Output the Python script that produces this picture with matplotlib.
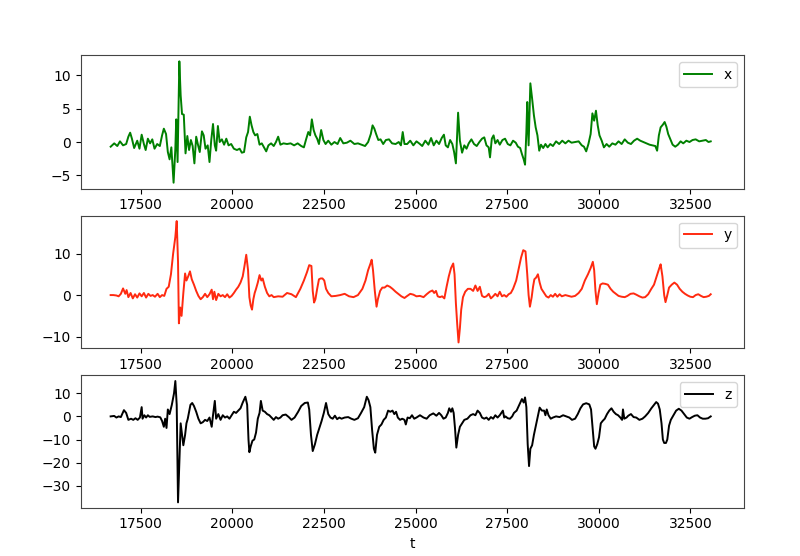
import numpy as np
import matplotlib
matplotlib.use("Agg")
import matplotlib.pyplot as plt

# ---- series x (green) ----
t_x = [16679, 16776, 16860, 16933, 17017, 17102, 17162, 17211, 17259, 17320, 17404, 17465, 17525, 17586,
       17634, 17694, 17755, 17815, 17876, 17948, 18021, 18082, 18130, 18190, 18239, 18287, 18335, 18396,
       18444, 18468, 18505, 18553, 18589, 18626, 18674, 18722, 18771, 18819, 18868, 18916, 18964, 19013,
       19061, 19110, 19170, 19218, 19267, 19327, 19376, 19424, 19472, 19521, 19557, 19605, 19654, 19714,
       19775, 19835, 19896, 19968, 20041, 20125, 20198, 20258, 20319, 20379, 20428, 20476, 20524, 20573,
       20621, 20682, 20742, 20803, 20863, 20924, 20984, 21057, 21129, 21190, 21250, 21311, 21395, 21492,
       21589, 21685, 21782, 21879, 21952, 22012, 22072, 22121, 22169, 22218, 22266, 22314, 22363, 22423,
       22484, 22544, 22617, 22701, 22786, 22871, 22943, 23028, 23125, 23221, 23330, 23427, 23524, 23621,
       23705, 23778, 23826, 23875, 23923, 23983, 24044, 24116, 24189, 24274, 24358, 24455, 24540, 24600,
       24649, 24697, 24770, 24854, 24939, 25024, 25096, 25181, 25265, 25350, 25423, 25495, 25568, 25640,
       25713, 25773, 25822, 25882, 25942, 26003, 26051, 26100, 26160, 26209, 26269, 26330, 26390, 26450,
       26523, 26595, 26668, 26741, 26813, 26874, 26934, 26995, 27031, 27080, 27128, 27176, 27237, 27297,
       27370, 27442, 27515, 27587, 27660, 27733, 27793, 27854, 27902, 27950, 27987, 28023, 28047, 28084,
       28132, 28180, 28229, 28277, 28325, 28374, 28422, 28482, 28543, 28603, 28676, 28748, 28833, 28918,
       29002, 29087, 29172, 29256, 29353, 29450, 29535, 29595, 29656, 29716, 29777, 29825, 29873, 29922,
       29970, 30018, 30079, 30139, 30212, 30285, 30369, 30454, 30538, 30623, 30707, 30792, 30877, 30961,
       31046, 31131, 31215, 31300, 31385, 31469, 31542, 31591, 31639, 31687, 31748, 31796, 31844, 31893,
       31953, 32014, 32086, 32159, 32232, 32304, 32389, 32474, 32558, 32643, 32739, 32836, 32921, 32993,
       33054]
x_vals = [-0.7, -0.2, -0.6, 0.1, -0.5, -0.3, 0.8, 1.4, 0.5, -0.9, 0.2, -1.0, 1.1, -0.3,
          -1.2, 0.5, -0.2, 0.4, -1.0, -0.3, -0.6, 1.0, 2.0, 1.2, -1.5, -2.6, -0.8, -6.1,
          -1.0, 3.4, -3.0, 12.1, 7.0, 4.2, 4.1, -1.7, 0.9, -1.2, 0.3, -0.6, -3.2, 0.8,
          -0.4, -1.5, 1.6, 1.0, -1.0, -0.5, -3.0, 0.3, 2.7, -0.5, -1.3, 2.4, 0.0, 0.4,
          -0.4, 0.5, -0.5, -0.3, -1.0, -1.2, -1.0, -1.6, -1.5, 0.7, 1.5, 3.8, 2.5, 1.5,
          1.0, 1.2, -0.4, -0.2, -0.8, -1.4, -0.5, -0.2, -0.6, 0.0, 0.8, -0.4, -0.2, -0.3,
          -0.2, -0.5, -0.2, -0.6, -0.8, 0.4, 1.5, 1.0, 3.4, 1.8, 1.0, 0.5, -0.3, 1.8,
          0.3, -0.3, 0.2, -0.4, 0.0, -0.3, 0.6, -0.2, -0.1, 0.2, -0.3, -0.2, -0.4, -0.6,
          0.0, 1.2, 2.5, 2.0, 1.2, 0.3, 0.4, -0.3, 0.3, 0.4, -0.2, -0.3, 0.0, -0.5,
          1.5, -0.3, -0.3, 0.2, -0.5, 0.1, -0.2, -0.6, 0.2, -0.4, 0.6, -0.5, 0.2, -0.3,
          0.6, 1.1, -0.5, -0.8, 0.3, -0.3, -1.5, -3.2, 4.4, 0.2, -1.6, -0.5, -1.0, -0.2,
          0.4, -0.3, -0.6, 0.0, 0.5, 0.7, -0.5, -0.8, -2.3, 0.5, 1.0, -0.2, 0.3, -0.4,
          0.3, 0.5, -0.3, -0.5, 0.2, -0.1, -0.7, -0.9, -1.8, -2.6, -3.4, 1.5, 6.0, -0.5,
          8.8, 6.5, 4.0, 2.2, 1.0, -1.3, -0.4, -0.9, -0.3, -0.8, -0.3, -0.6, 0.1, -0.3,
          0.2, -0.2, 0.2, -0.1, 0.0, 0.1, -0.5, -0.7, -1.4, -0.3, 1.2, 4.3, 3.2, 4.7,
          2.5, 1.0, 0.2, -0.8, -0.3, -0.7, -0.2, -0.4, 0.1, -0.3, 0.4, -0.1, -0.3, 0.2,
          0.5, 0.2, 0.0, -0.2, -0.4, -0.5, -0.6, -1.3, 1.0, 2.2, 2.6, 3.0, 2.3, 1.2,
          0.4, -0.4, -0.7, -0.4, 0.1, -0.2, 0.2, 0.0, 0.3, 0.4, 0.1, 0.2, 0.3, 0.0,
          0.1]

# ---- series y (red) ----
t_y = [16678, 16751, 16836, 16897, 16957, 17017, 17078, 17114, 17162, 17223, 17283, 17344, 17404, 17465,
       17525, 17586, 17646, 17707, 17767, 17827, 17888, 17960, 18021, 18082, 18142, 18203, 18263, 18324,
       18384, 18444, 18481, 18517, 18541, 18577, 18614, 18662, 18710, 18747, 18795, 18843, 18892, 18952,
       19013, 19073, 19134, 19194, 19255, 19315, 19376, 19436, 19472, 19509, 19557, 19617, 19678, 19738,
       19799, 19859, 19920, 19980, 20041, 20101, 20162, 20222, 20283, 20331, 20379, 20428, 20464, 20500,
       20536, 20573, 20609, 20646, 20694, 20742, 20790, 20827, 20887, 20948, 21008, 21069, 21129, 21250,
       21371, 21492, 21613, 21734, 21855, 21952, 22036, 22097, 22157, 22193, 22230, 22266, 22314, 22363,
       22411, 22459, 22508, 22556, 22617, 22701, 22822, 22943, 23064, 23185, 23306, 23427, 23548, 23633,
       23705, 23766, 23802, 23838, 23887, 23935, 23971, 24032, 24092, 24153, 24225, 24298, 24370, 24455,
       24540, 24612, 24697, 24757, 24854, 24939, 25024, 25120, 25217, 25302, 25386, 25459, 25507, 25556,
       25604, 25664, 25725, 25785, 25846, 25906, 25967, 26027, 26063, 26100, 26136, 26172, 26209, 26245,
       26293, 26354, 26426, 26499, 26571, 26632, 26692, 26753, 26813, 26874, 26934, 26995, 27055, 27116,
       27176, 27237, 27297, 27358, 27418, 27478, 27539, 27599, 27660, 27745, 27817, 27878, 27938, 27999,
       28047, 28084, 28120, 28168, 28205, 28241, 28289, 28338, 28386, 28434, 28507, 28567, 28627, 28688,
       28748, 28809, 28869, 28930, 28990, 29087, 29172, 29256, 29353, 29450, 29535, 29619, 29704, 29777,
       29837, 29873, 29909, 29946, 29994, 30042, 30103, 30175, 30248, 30321, 30393, 30466, 30538, 30623,
       30707, 30780, 30865, 30949, 31022, 31107, 31191, 31264, 31348, 31433, 31506, 31578, 31651, 31687,
       31736, 31784, 31820, 31869, 31917, 31990, 32062, 32135, 32207, 32280, 32352, 32425, 32497, 32570,
       32643, 32715, 32788, 32860, 32933, 33005, 33054]
y_vals = [0.0, 0.0, -0.1, -0.3, 0.3, 1.6, 0.3, 1.2, -0.5, 0.5, -0.8, 0.2, -0.6, 0.4,
          -0.3, 0.5, -0.6, 0.3, -0.2, 0.0, -0.4, 0.3, -0.5, 0.0, -0.2, 1.5, 2.0, 5.0,
          10.0, 14.0, 17.8, 8.0, -6.8, -3.0, -5.0, 0.5, 5.2, 3.5, 4.5, 5.7, 3.8, 2.5,
          1.0, -0.2, -1.0, -0.5, 0.3, -0.5, 0.2, 1.3, -1.0, 0.8, -1.2, 0.3, -0.3, 0.0,
          -0.5, 0.2, -0.6, -0.2, 0.5, 1.3, 2.0, 3.0, 4.5, 7.0, 9.7, 6.0, -0.5, -2.5,
          -3.5, -1.0, 0.5, 1.5, 3.0, 4.8, 3.5, 4.0, 2.0, 0.5, -0.3, 0.0, -0.5, -0.3,
          -0.4, 0.5, 0.2, -0.5, 1.5, 3.5, 5.5, 7.2, 7.0, 1.0, -1.8, -1.0, 1.5, 3.8,
          4.0, 4.0, 3.5, 1.5, 0.5, -0.3, -0.2, 0.0, 0.3, -0.3, -0.5, 0.0, 1.5, 3.5,
          6.0, 7.5, 8.5, 6.0, 1.0, -2.8, -1.0, 1.0, 1.8, 1.8, 2.3, 2.0, 1.5, 0.8,
          0.2, -0.3, -0.7, -0.3, 0.3, 0.1, -0.3, -0.2, -0.5, 0.2, 0.8, 1.1, 0.5, 1.0,
          -0.3, -0.5, -0.3, -0.8, 2.0, 4.5, 6.5, 7.6, 5.0, -2.0, -7.0, -11.4, -8.0, -3.5,
          -0.5, 0.8, 1.5, 1.5, 1.0, 2.3, 1.0, 2.0, -0.2, -0.5, -0.3, 0.3, -0.8, -0.3,
          0.3, -0.3, 0.8, -0.3, 0.0, -0.4, 0.2, 0.5, 1.5, 3.5, 6.5, 9.0, 10.8, 10.5,
          5.0, 0.0, -2.8, -0.5, 2.0, 3.8, 4.2, 5.0, 3.0, 1.5, 0.5, -0.3, -0.6, 0.0,
          -0.4, 0.3, -0.4, 0.2, -0.3, 0.0, -0.2, -0.4, -0.2, 0.5, 1.5, 3.5, 5.0, 6.5,
          8.0, 6.0, 1.0, -2.2, 0.5, 2.5, 2.8, 2.7, 2.5, 1.5, 0.8, 0.3, -0.2, -0.4,
          -0.5, -0.2, 0.3, 0.4, 0.1, -0.3, -0.6, -0.5, 0.2, 1.5, 2.5, 4.5, 6.5, 7.4,
          4.5, 0.0, -1.7, 0.0, 1.8, 2.5, 3.0, 2.5, 1.5, 0.8, 0.3, -0.1, -0.4, -0.5,
          0.0, 0.2, -0.2, -0.5, -0.4, -0.2, 0.2]

# ---- series z (black) ----
t_z = [16678, 16775, 16836, 16897, 16957, 17041, 17102, 17162, 17235, 17295, 17356, 17416, 17477, 17525,
       17549, 17598, 17646, 17694, 17743, 17827, 17900, 17960, 18033, 18082, 18130, 18166, 18203, 18239,
       18287, 18348, 18408, 18444, 18481, 18517, 18553, 18589, 18626, 18662, 18710, 18747, 18783, 18819,
       18856, 18904, 18952, 19013, 19073, 19134, 19194, 19255, 19315, 19376, 19436, 19472, 19521, 19557,
       19617, 19678, 19738, 19799, 19859, 19920, 19980, 20041, 20101, 20162, 20222, 20283, 20355, 20404,
       20440, 20464, 20500, 20549, 20597, 20646, 20694, 20742, 20778, 20827, 20887, 20948, 21008, 21069,
       21129, 21190, 21250, 21311, 21371, 21456, 21540, 21613, 21698, 21795, 21879, 21976, 22060, 22097,
       22145, 22193, 22254, 22314, 22375, 22435, 22496, 22556, 22617, 22677, 22738, 22798, 22859, 22919,
       22980, 23064, 23161, 23246, 23330, 23427, 23512, 23597, 23669, 23717, 23766, 23814, 23862, 23899,
       23947, 24008, 24068, 24129, 24189, 24250, 24310, 24370, 24419, 24467, 24515, 24576, 24636, 24697,
       24733, 24781, 24842, 24902, 24963, 25024, 25120, 25217, 25302, 25386, 25483, 25568, 25640, 25701,
       25761, 25822, 25882, 25918, 25967, 26003, 26039, 26075, 26112, 26160, 26209, 26269, 26330, 26414,
       26499, 26571, 26632, 26692, 26753, 26813, 26874, 26934, 26995, 27055, 27116, 27176, 27237, 27297,
       27382, 27418, 27454, 27515, 27575, 27636, 27684, 27757, 27829, 27902, 27950, 27987, 28023, 28059,
       28096, 28132, 28180, 28229, 28289, 28338, 28386, 28446, 28507, 28543, 28579, 28627, 28688, 28748,
       28833, 28930, 29026, 29111, 29196, 29268, 29353, 29426, 29498, 29571, 29656, 29740, 29788, 29837,
       29873, 29909, 29958, 30006, 30054, 30103, 30163, 30224, 30285, 30345, 30405, 30466, 30526, 30587,
       30635, 30659, 30695, 30756, 30804, 30877, 30949, 31022, 31107, 31191, 31264, 31348, 31433, 31506,
       31566, 31615, 31663, 31711, 31748, 31784, 31832, 31869, 31917, 31965, 32038, 32110, 32183, 32256,
       32328, 32401, 32474, 32546, 32619, 32691, 32763, 32836, 32908, 32981, 33054]
z_vals = [0.0, 0.2, -0.5, 0.0, -0.3, 2.7, 1.5, -1.5, -1.0, -1.5, -0.8, -1.5, -0.5, 4.0,
          -1.0, 0.5, -0.5, 0.5, -0.2, 0.0, -0.3, -0.1, -0.4, -2.0, -4.5, -1.0, -5.0, 3.0,
          1.0, 5.0, 10.0, 15.3, 5.0, -37.2, -20.0, -3.0, -8.0, -12.5, -8.0, -3.0, -1.0, 2.0,
          5.0, 5.8, 4.5, 2.0, -1.0, -3.0, -2.5, -1.5, -2.0, -0.5, -4.5, 0.5, 6.7, -1.0,
          1.0, -1.5, 0.5, -0.5, 0.0, -1.0, 0.5, 2.0, 1.5, 2.5, 3.5, 6.0, 8.5, 5.0,
          -10.0, -15.5, -13.0, -10.5, -10.0, -7.0, -1.0, 1.5, 6.7, 2.5, 2.0, 1.0, 0.5, -0.5,
          -1.5, -0.3, -1.0, -0.5, 0.5, 0.8, -0.3, -1.5, -0.5, 2.0, 4.5, 5.8, 6.0, 3.0,
          -8.0, -15.0, -12.0, -8.0, -5.0, -2.0, 1.5, 5.8, 1.0, -0.5, -1.0, 0.3, -1.2, -0.5,
          -1.0, -0.5, -0.3, -1.0, -1.5, -0.8, 1.5, 4.0, 8.5, 7.0, 4.0, -6.0, -14.0, -15.7,
          -8.0, -4.5, -3.5, -1.5, -0.5, 2.5, 2.0, 2.5, 1.0, 2.0, -0.5, -1.5, -1.0, -1.5,
          -3.5, -0.5, -0.8, 0.5, -1.0, -0.5, 0.5, -0.5, -1.0, 0.5, 1.3, 0.3, 1.5, 0.5,
          -1.0, -0.5, 1.5, 3.5, 2.0, 3.5, 1.5, -5.0, -13.5, -8.0, -4.5, -3.0, -1.5, -1.0,
          0.5, 1.0, 0.5, 2.5, 1.5, -0.5, -1.0, -0.5, -1.5, -0.3, -1.0, 0.5, -0.5, 0.5,
          2.5, -0.5, 0.0, -0.8, -1.0, 0.0, 1.5, 2.5, 5.0, 7.5, 6.0, 8.2, 4.0, -12.0,
          -21.5, -14.0, -12.5, -8.0, -3.5, 0.0, 3.8, 2.5, 2.5, 0.5, 3.0, 0.5, -1.0, -0.5,
          0.0, -0.3, 0.5, 0.0, -0.5, -1.5, -1.0, 1.0, 3.5, 5.2, 5.7, 5.2, 3.0, -6.0,
          -13.0, -14.0, -12.0, -9.0, -3.0, -2.0, -1.0, 1.0, 2.5, 3.5, 2.0, 1.0, 0.5, -0.5,
          -1.5, 3.0, -1.0, -0.5, 0.3, 1.0, -0.3, -0.5, -1.5, -1.0, 0.0, 1.5, 3.5, 5.0,
          6.2, 5.5, 3.0, -3.0, -10.0, -11.5, -11.5, -10.0, -4.0, -1.5, 0.5, 2.5, 3.3, 2.5,
          1.0, -0.5, -1.0, -0.3, 0.3, 0.5, -0.5, -1.0, -1.0, -0.8, 0.0]

series = [
    ("x", t_x, x_vals, "green"),
    ("y", t_y, y_vals, "#ff2a10"),
    ("z", t_z, z_vals, "black"),
]
xticks = [17500, 20000, 22500, 25000, 27500, 30000, 32500]
yticks = [[-5, 0, 5, 10], [-10, 0, 10], [-30, -20, -10, 0, 10]]
xlim = (15864, 33962)
ylims = [(-7.0, 13.0), (-12.8, 19.1), (-39.5, 17.9)]
rects = [
    [0.101, 0.6606, 0.829, 0.2399],
    [0.101, 0.3736, 0.829, 0.2385],
    [0.101, 0.0869, 0.829, 0.2386],
]

fig = plt.figure(figsize=(8.0, 5.56), dpi=100)
for (label, t, v, color), rect, yl, yt in zip(series, rects, ylims, yticks):
    ax = fig.add_axes(rect)
    ax.plot(t, v, color=color, lw=1.4, label=label)
    ax.set_xlim(*xlim)
    ax.set_ylim(*yl)
    ax.set_xticks(xticks)
    ax.set_yticks(yt)
    ax.set_xlabel("t")
    ax.legend(loc="upper right")
    for s in ax.spines.values():
        s.set_color("#444444")

fig.savefig("out.png", dpi=100)
